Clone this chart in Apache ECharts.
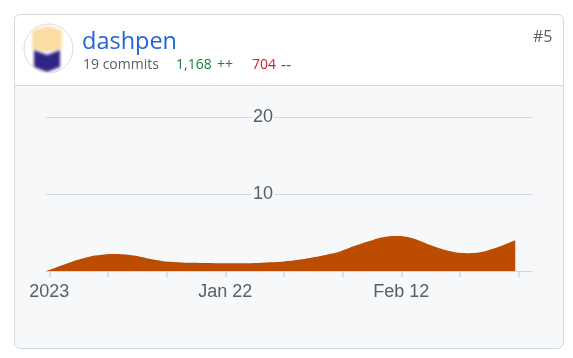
<!DOCTYPE html>
<html>
<head>
<meta charset="utf-8">
<style>html,body{margin:0;padding:0;background:#fff}#c{width:573px;height:358px}</style>
<script src="https://cdn.jsdelivr.net/npm/echarts@6/dist/echarts.min.js"></script>
</head>
<body>
<div id="c"></div>
<script>
var authorName = "dashpen";
var commitsText = "19 commits";
var addsNumber = "1,168";
var addsMark = "++";
var delsNumber = "704";
var delsMark = "--";
var rankText = "#5";
// Curve (days relative to 2023-01-01, commits per week).
var sampleDays = [-0.4, 1.3, 3.1, 5.1, 6.6, 7.6, 8.8, 10.1, 11.8, 13.6, 15.3, 17.1, 20.6, 24.1, 27.6, 29.3, 31.1, 32.8, 34.6, 36.3, 38.1, 39.6, 40.6, 41.6, 42.8, 44.1, 45.6, 47.1, 48.6, 49.8, 51, 52.1, 53.8, 55.6];
var commits = [0, 0.65, 1.35, 1.95, 2.15, 2.2, 2.16, 2.0, 1.62, 1.28, 1.15, 1.06, 1.0, 1.02, 1.2, 1.4, 1.7, 2.05, 2.5, 3.2, 3.85, 4.35, 4.52, 4.55, 4.4, 3.95, 3.3, 2.75, 2.4, 2.32, 2.38, 2.6, 3.2, 4.0];
var xTickDates = ["2023-01-01","2023-01-08","2023-01-15","2023-01-22","2023-01-29","2023-02-05","2023-02-12","2023-02-19","2023-02-26"];
var xLabels = {"2023-01-01":"2023","2023-01-22":"Jan 22","2023-02-12":"Feb 12"};
var yTicks = [10, 20];

function day(s){
  return (new Date(s + "T00:00Z").getTime() - Date.UTC(2023,0,1)) / 86400000;
}
function labelFor(v){
  var keys = Object.keys(xLabels);
  for (var i = 0; i < keys.length; i++) { if (Math.abs(day(keys[i]) - v) < 0.01) return xLabels[keys[i]]; }
  return "";
}

var av = document.createElement("canvas");
av.width = 50; av.height = 50;
var a = av.getContext("2d");
a.fillStyle = "#ffffff"; a.fillRect(0,0,50,50);
a.filter = "blur(1.8px)";
a.fillStyle = "#fadda2"; a.beginPath();
a.moveTo(9,6);a.lineTo(24,2);a.lineTo(39,6);a.lineTo(39,25);a.lineTo(24,28);a.lineTo(9,25);a.closePath();a.fill();
a.fillStyle = "#2e2484"; a.beginPath();
a.moveTo(11,26);a.lineTo(24,31);a.lineTo(37,26);a.lineTo(37,43);a.lineTo(24,48);a.lineTo(11,43);a.closePath();a.fill();

var chart = echarts.init(document.getElementById("c"), null, {renderer:"canvas"});
var subFont = '14px "Open Sans", sans-serif';
function label(x, y, text, fill, font){
  return {type:"text",z:6,silent:true,style:{x:x,y:y,text:text,fill:fill,font:font,textVerticalAlign:"middle"}};
}
chart.setOption({
  animation:false,
  backgroundColor:"#ffffff",
  grid:{left:46,right:41,top:117,bottom:87},
  xAxis:{
    type:"value",
    min:sampleDays[0],
    max:57.6,
    splitLine:{show:false},
    axisLine:{show:true,lineStyle:{color:"#d0d7de",width:1}},
    axisTick:{show:true,length:6,lineStyle:{color:"#d0d7de",width:1.5},customValues:xTickDates.map(day)},
    axisLabel:{
      color:"#57606a",fontSize:18,fontFamily:'"Liberation Sans",Arial,sans-serif',margin:12,
      customValues:Object.keys(xLabels).map(day),
      hideOverlap:false,
      formatter:labelFor
    }
  },
  yAxis:{
    type:"value",min:0,max:20,interval:10,
    axisLine:{show:false},axisTick:{show:false},
    splitLine:{show:true,lineStyle:{color:"#d0d7de",width:1}},
    axisLabel:{
      color:"#57606a",fontSize:18,fontFamily:'"Liberation Sans",Arial,sans-serif',
      align:"center",margin:-217,customValues:yTicks,
      backgroundColor:"#f6f8fa",padding:[6,1,0,1]
    }
  },
  series:[{
    type:"line",
    data:sampleDays.map(function(d,i){return [d,commits[i]];}),
    smooth:0.25,showSymbol:false,symbol:"none",
    lineStyle:{width:0},
    areaStyle:{color:"#bc4c00",opacity:1},
    z:3
  }],
  graphic:{elements:[
    {type:"rect",z:-10,silent:true,shape:{x:14.5,y:14.5,width:549,height:334,r:6},style:{fill:"#ffffff",stroke:"#d0d7de",lineWidth:1}},
    {type:"rect",z:-9,silent:true,shape:{x:15,y:85,width:548,height:263,r:[0,0,6,6]},style:{fill:"#f6f8fa"}},
    {type:"line",z:-8,silent:true,shape:{x1:15,y1:85.5,x2:563,y2:85.5},style:{stroke:"#d0d7de",lineWidth:1}},
    {type:"image",z:5,silent:true,style:{image:av,x:23,y:24,width:50,height:50},clipPath:{type:"circle",shape:{cx:48,cy:49,r:24}}},
    {type:"circle",z:6,silent:true,shape:{cx:48.5,cy:48.5,r:24.5},style:{fill:"none",stroke:"#d8dce0",lineWidth:1}},
    label(82,42,authorName,"#2563d9",'23.5px "Open Sans", sans-serif'),
    label(83,65.5,commitsText,"#57606a",subFont),
    label(176,65.5,addsNumber,"#1a7f37",subFont),
    label(217,65.5,addsMark,"#1a7f37",subFont),
    label(252,65.5,delsNumber,"#cf222e",subFont),
    label(281,65.5,delsMark,"#cf222e",'16px "Open Sans", sans-serif'),
    label(533,37,rankText,"#57606a",'16px "Open Sans", sans-serif')
  ]}
});
</script>
</body>
</html>
